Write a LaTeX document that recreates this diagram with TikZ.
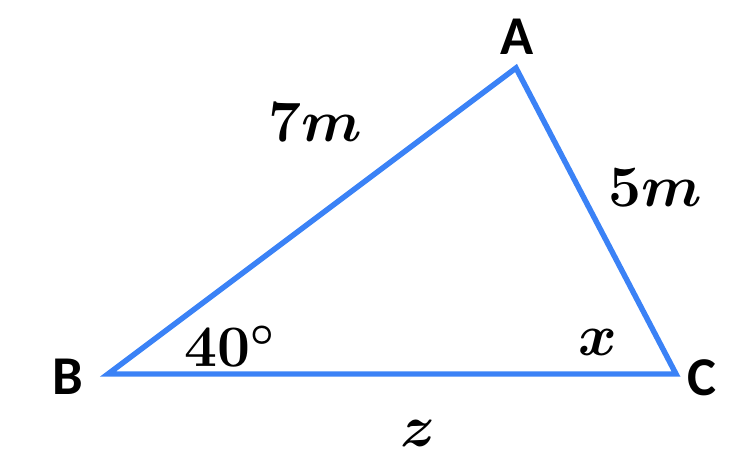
\RequirePackage{fix-cm}
\documentclass[tikz,border=0pt]{standalone}
\usepackage{fontspec}
\newfontfamily\labelfont{Carlito}
\usepackage{tikz}
\definecolor{sideblue}{RGB}{59,130,246}

\begin{document}
\begin{tikzpicture}[x=0.75pt,y=-0.75pt,
		side/.style={draw=sideblue,line width=4.1pt,line join=miter},
		vertex/.style={inner sep=0pt,font=\labelfont\bfseries\fontsize{41}{44}\selectfont},
		meas/.style={inner sep=0pt,font=\fontsize{44}{48}\selectfont\boldmath}]
		\useasboundingbox (0,0) rectangle (735,463);
		\coordinate (A) at (516,68);
		\coordinate (B) at (108,374);
		\coordinate (C) at (676,374);
		\draw[side] (A) -- (B) -- (C) -- cycle;
		
		\node[vertex] (lA) at (517,37) {A};
		\node[vertex] (lB) at (68,377) {B};
		\node[vertex] (lC) at (702,378) {C};
		
		\node[meas] (ab) at (315,123) {$7m$};
		\node[meas] (ac) at (655,188) {$5m$};
		\node[meas] (angB) at (230,346) {$40^\circ$};
		\node[meas] (angC) at (598,342) {$x$};
		\node[meas] (bc) at (418,433) {$z$};
\end{tikzpicture}
\end{document}
